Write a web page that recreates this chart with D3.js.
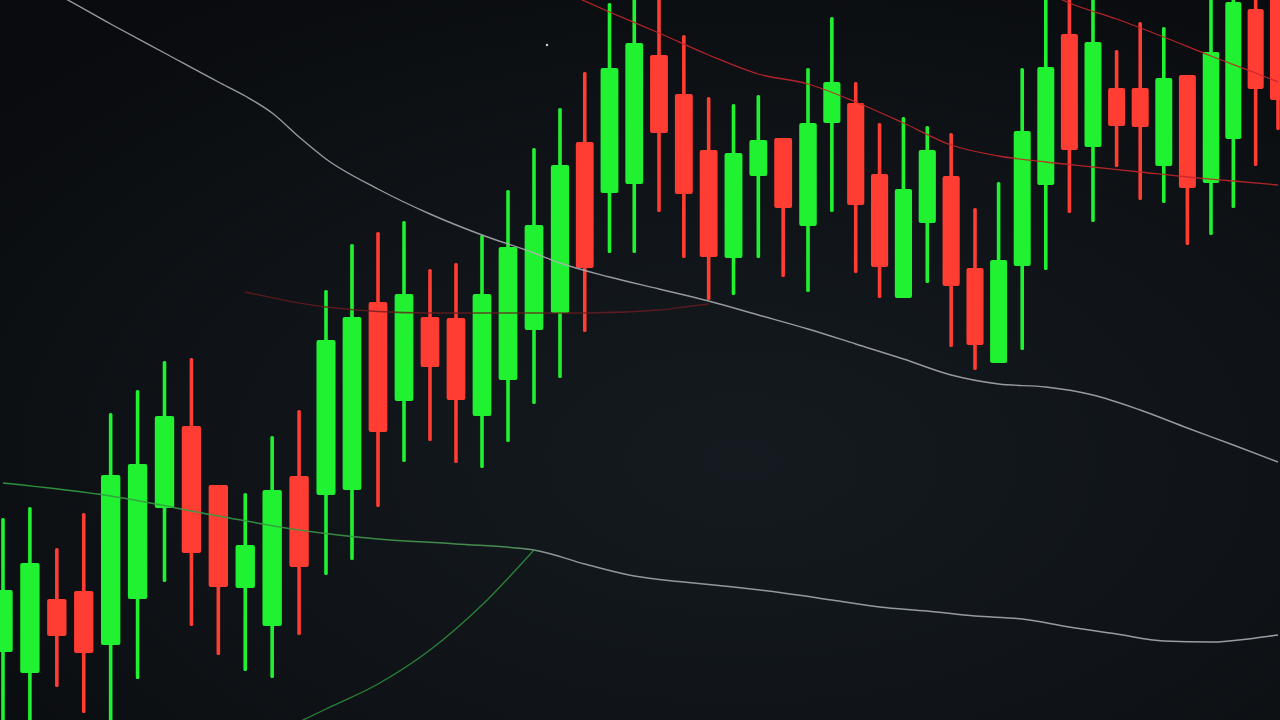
<!DOCTYPE html>
<html>
<head>
<meta charset="utf-8">
<script src="https://cdn.jsdelivr.net/npm/d3@7"></script>
<style>
html,body{margin:0;padding:0;background:#0b0e12;overflow:hidden;}
svg{display:block;}
</style>
</head>
<body>
<svg id="chart" width="1280" height="720"></svg>
<script>
// ---------- DATA (price units) ----------
const opens  = [68,47,121,129,75,121,212,294,235,132,94,244,225,230,418,319,403,402,304,340,390,407,578,527,536,665,626,570,462,544,582,494,597,617,546,422,497,544,452,357,454,535,686,573,632,632,554,645,537,581,711,725];
const highs  = [202,213,172,207,307,330,359,362,235,227,284,310,430,476,488,499,451,457,485,530,572,612,648,717,725,725,685,623,616,625,582,652,703,638,597,603,594,587,512,538,652,725,725,725,670,698,693,645,725,725,725,725];
const lows   = [-10,-10,33,7,-10,41,138,94,65,49,42,85,145,160,213,258,279,257,252,278,316,342,388,467,467,508,462,420,425,462,443,428,508,447,422,422,437,373,350,357,370,450,507,498,553,520,517,475,485,512,554,590];
const closes = [130,157,84,67,245,256,304,167,133,175,230,153,380,403,288,426,353,320,426,473,495,555,452,652,677,587,526,463,567,580,512,597,638,515,453,531,570,434,375,460,589,653,570,678,594,593,642,532,668,718,631,620];

// overlay lines: candle index -> value
const upperGreyIdx = [0,2,4,6,8,9,10,11,12,14,16,18,20,21,23,25,27,29,31,33,35,37,39,41,43,45,47,49,51];
const upperGreyVal = [753,726,696,667,638,624,607,583,561,531,506,485,467,457,443,431,419,405,391,376,361,345,336,333,325,310,292,275,258];

const lowerBandIdx = [0,4,8,11,14,17,20,22,24,26,28,30,32,34,36,38,40,42,44,46,48,50,51];
const lowerBandVal = [237,224,204,190,181,176,170,156,144,138,133,127,120,113,109,104,101,93,86,79,78,82,85];

const greenCurveIdx = [11,12,14,16,18,20];
const greenCurveVal = [-2,11,36,70,115,170];

const redUpperIdx = [21,23,25,27,29,31,33,35,37,39,41,43,45,47,49,51];
const redUpperVal = [730,708,687,665,646,636,618,597,575,564,558,553,548,543,539,535];

const redTopIdx = [41,42,44,46,48,50,51];
const redTopVal = [728,717,701,683,664,647,638];

const redDimIdx = [9,12,16,19,22,25,26,27];
const redDimVal = [428,413,407,407,407,410,413,416];

// ---------- LAYOUT ----------
const W = 1280, H = 720;
const svg = d3.select("#chart");
const candles = opens.map((o,i)=>({i, o, h:highs[i], l:lows[i], c:closes[i]}));

// slightly perspective time axis (piecewise linear)
const x = d3.scaleLinear()
  .domain([0,12,21,25,31,38,48,51])
  .range([3,326,560,659,808,975,1211,1278]);
const y = d3.scaleLinear().domain([0,720]).range([H,0]);

const GREEN = "#20f231", RED = "#ff3d33";

// background
const defs = svg.append("defs");
const bg = defs.append("radialGradient").attr("id","bg")
  .attr("cx","0.58").attr("cy","0.64").attr("r","0.78");
bg.append("stop").attr("offset","0").attr("stop-color","#141a1f");
bg.append("stop").attr("offset","0.55").attr("stop-color","#0f1317");
bg.append("stop").attr("offset","1").attr("stop-color","#090b0e");
svg.append("rect").attr("width",W).attr("height",H).attr("fill","url(#bg)");

const lg = defs.append("linearGradient").attr("id","lowband")
  .attr("gradientUnits","userSpaceOnUse").attr("x1",0).attr("x2",W).attr("y1",0).attr("y2",0);
lg.append("stop").attr("offset","0").attr("stop-color","#2fa040");
lg.append("stop").attr("offset","0.27").attr("stop-color","#3c9446");
lg.append("stop").attr("offset","0.40").attr("stop-color","#4f9a55");
lg.append("stop").attr("offset","0.43").attr("stop-color","#9ea3a7");
lg.append("stop").attr("offset","1").attr("stop-color","#a9adb1");

// candles
const step = i => (x(i+0.5) - x(i-0.5));
const g = svg.append("g");
const cg = g.selectAll("g.c").data(candles).join("g").attr("class","c");
cg.append("rect")
  .attr("x", d => x(d.i) - 1.8)
  .attr("width", 3.6)
  .attr("y", d => y(d.h))
  .attr("height", d => Math.max(0, y(d.l) - y(d.h)))
  .attr("rx", 1.5)
  .attr("fill", d => d.c >= d.o ? GREEN : RED);
cg.append("rect")
  .attr("x", d => x(d.i) - step(d.i)*0.36)
  .attr("width", d => step(d.i)*0.72)
  .attr("y", d => y(Math.max(d.o,d.c)))
  .attr("height", d => Math.abs(y(d.o) - y(d.c)))
  .attr("rx", 2)
  .attr("fill", d => d.c >= d.o ? GREEN : RED);

// overlay lines
function drawLine(idx, vals, stroke, width, opacity){
  const pts = idx.map((k,j)=>[k, vals[j]]);
  svg.append("path")
    .datum(pts)
    .attr("fill","none")
    .attr("stroke", stroke)
    .attr("stroke-width", width)
    .attr("stroke-opacity", opacity)
    .attr("d", d3.line().x(p=>x(p[0])).y(p=>y(p[1])).curve(d3.curveMonotoneX));
}
drawLine(redDimIdx, redDimVal, "#6a1d20", 1.3, 0.8);
drawLine(upperGreyIdx, upperGreyVal, "#aeb2b6", 1.4, 0.85);
drawLine(lowerBandIdx, lowerBandVal, "url(#lowband)", 1.5, 0.9);
drawLine(greenCurveIdx, greenCurveVal, "#2c8f3a", 1.3, 0.9);
drawLine(redUpperIdx, redUpperVal, "#c3262b", 1.3, 0.9);
drawLine(redTopIdx, redTopVal, "#c3262b", 1.3, 0.9);

// small speck
svg.append("circle").attr("cx", x(20.5)).attr("cy", y(675)).attr("r", 1.2).attr("fill","#cfd3d6");
</script>
</body>
</html>
